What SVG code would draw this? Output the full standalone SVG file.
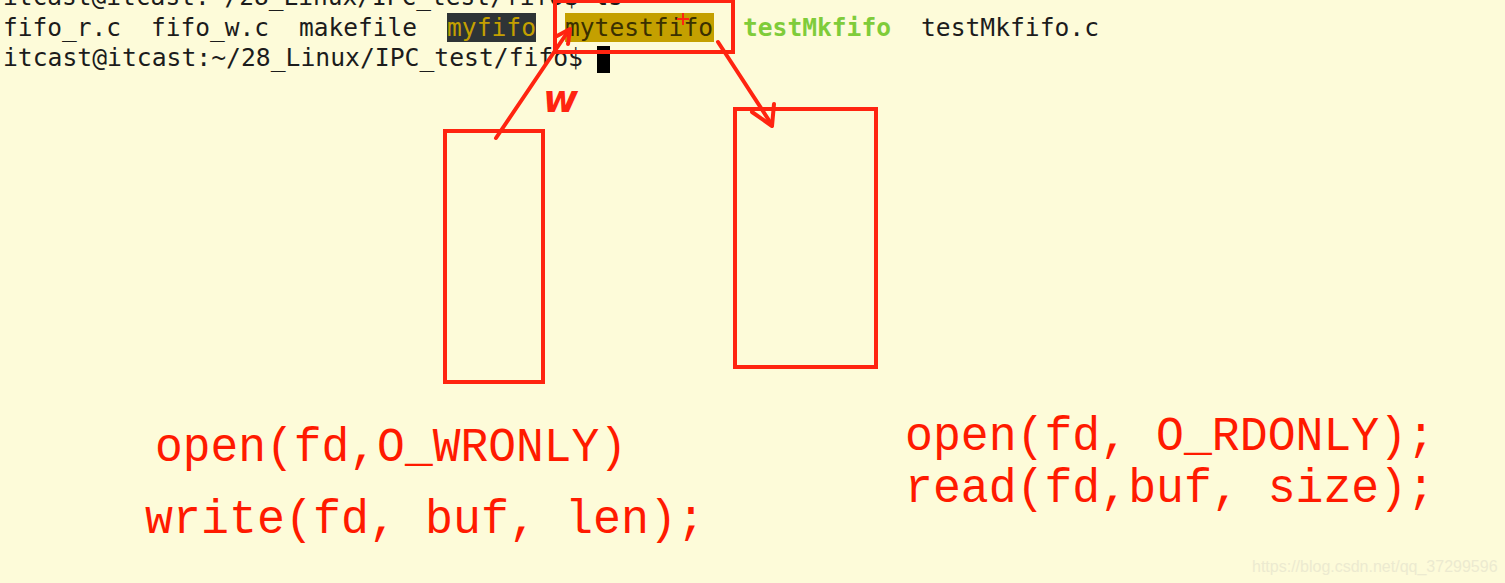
<svg xmlns="http://www.w3.org/2000/svg" width="1505" height="583" viewBox="0 0 1505 583">
<style>
.term{font-family:"DejaVu Sans Mono","Liberation Mono",monospace;font-size:24px;fill:#1c1c1c}
.code{font-family:"Liberation Mono","DejaVu Sans Mono",monospace;font-size:48px;fill:#ff1a00}
.box{fill:none;stroke:#ff2410;stroke-width:4}
.pen{fill:none;stroke:#ff2410;stroke-width:4;stroke-linecap:round;stroke-linejoin:round}
</style>
<rect width="1505" height="583" fill="#fdfbd9"/>
<g id="terminal">
<text class="term" x="3" y="5" textLength="620" lengthAdjust="spacingAndGlyphs">itcast@itcast:~/28_Linux/IPC_test/fifo$ ls</text>
<rect x="447" y="13" width="89" height="29" fill="#2e3436"/>
<rect x="565" y="13" width="149" height="29" fill="#c4a000"/>
<text class="term" x="3" y="36" textLength="118" lengthAdjust="spacingAndGlyphs">fifo_r.c</text>
<text class="term" x="151" y="36" textLength="118" lengthAdjust="spacingAndGlyphs">fifo_w.c</text>
<text class="term" x="299" y="36" textLength="118" lengthAdjust="spacingAndGlyphs">makefile</text>
<text class="term" x="447" y="36" textLength="89" lengthAdjust="spacingAndGlyphs" style="fill:#c4a000">myfifo</text>
<text class="term" x="565" y="36" textLength="148" lengthAdjust="spacingAndGlyphs" style="fill:#3a3000">mytestfifo</text>
<text class="term" x="743" y="36" textLength="148" lengthAdjust="spacingAndGlyphs" style="fill:#7fcc3a;font-weight:bold">testMkfifo</text>
<text class="term" x="921" y="36" textLength="178" lengthAdjust="spacingAndGlyphs">testMkfifo.c</text>
<text class="term" x="3" y="66" textLength="580" lengthAdjust="spacingAndGlyphs">itcast@itcast:~/28_Linux/IPC_test/fifo$</text>
<rect x="597" y="46" width="13" height="27" fill="#000"/>
</g>
<g id="fifo-highlight">
<rect class="box" x="555" y="1" width="178" height="51"/>
<path d="M677 19h12M683 13v12" stroke="#ff2410" stroke-width="2"/>
</g>
<g id="writer">
<rect class="box" x="445" y="131" width="98" height="251"/>
<text class="code" x="155" y="461" textLength="472" lengthAdjust="spacingAndGlyphs">open(fd,O_WRONLY)</text>
<text class="code" x="145" y="533" textLength="560" lengthAdjust="spacingAndGlyphs">write(fd, buf, len);</text>
</g>
<g id="reader">
<rect class="box" x="735" y="109" width="141" height="258"/>
<text class="code" x="905" y="450" textLength="530" lengthAdjust="spacingAndGlyphs">open(fd, O_RDONLY);</text>
<text class="code" x="905" y="502" textLength="530" lengthAdjust="spacingAndGlyphs">read(fd,buf, size);</text>
</g>
<g id="connectors">
<path class="pen" d="M496 138L569 30"/>
<path class="pen" d="M557 36L570 29L568 44"/>
<path class="pen" d="M718 42L772 125"/>
<path class="pen" d="M752 112L772 126L774 104"/>
</g>
<text x="543" y="112" style="font-family:'DejaVu Sans',sans-serif;font-size:38px;font-style:italic;font-weight:bold;fill:#ff2410">w</text>
<text x="1252" y="572" style="font-family:'Liberation Sans',Arial,sans-serif;font-size:16px;fill:#ecead0">https://blog.csdn.net/qq_37299596</text>
</svg>
